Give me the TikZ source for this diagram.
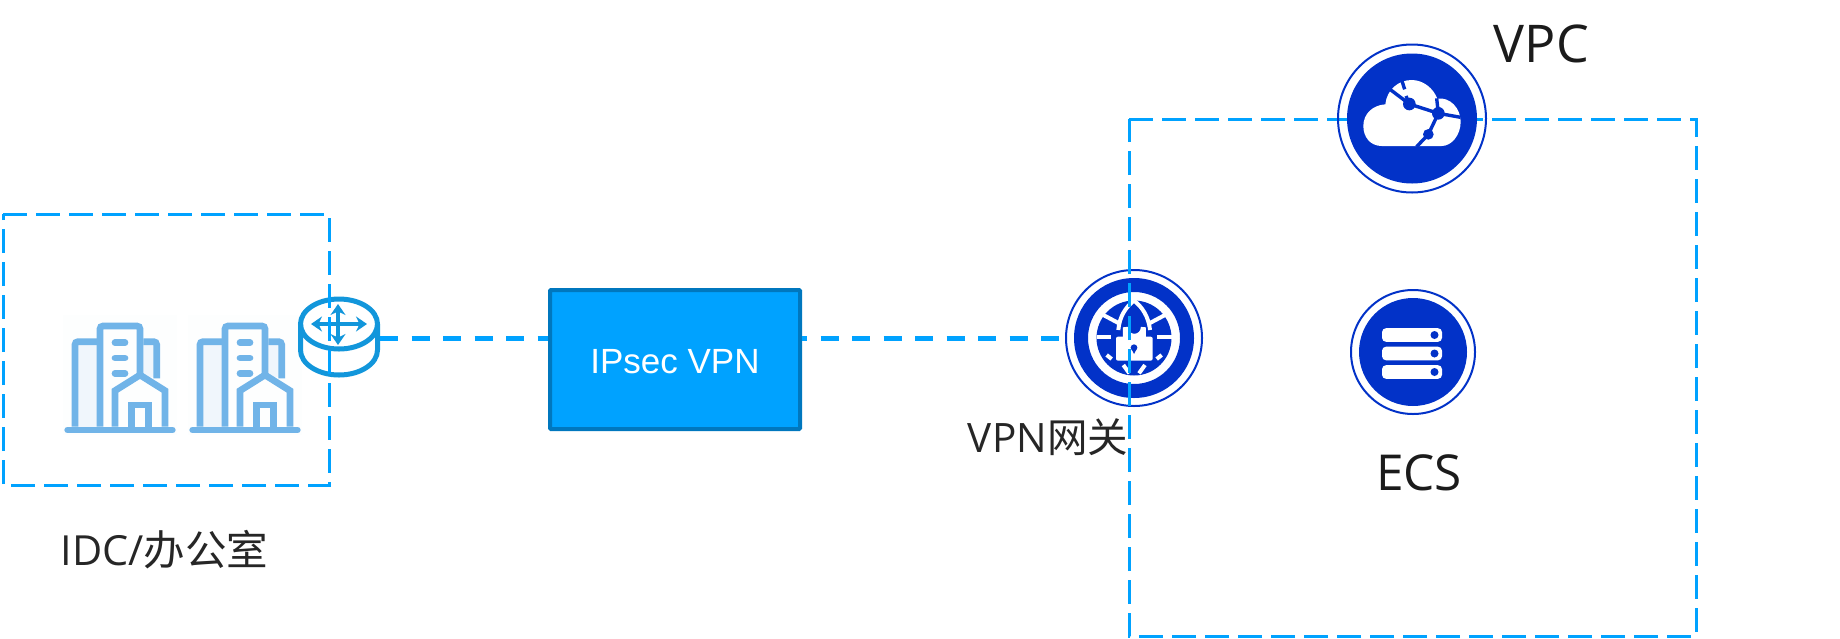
\documentclass[tikz,border=0pt]{standalone}
\usepackage{fontspec}
\setmainfont{Open Sans}
\newfontfamily\cjk{Noto Sans CJK SC}
\newfontfamily\helv{Liberation Sans}
\usetikzlibrary{arrows.meta}
\definecolor{linkblue}{HTML}{00A2FF}
\definecolor{boxedge}{HTML}{0077BE}
\definecolor{iconblue}{HTML}{0232C8}
\definecolor{routerblue}{HTML}{1296DB}
\definecolor{bldgblue}{HTML}{71B4E8}
\definecolor{bldglight}{HTML}{F0F6FC}
\definecolor{textdark}{HTML}{262626}

\tikzset{
    buildingicon/.pic={
        \fill[bldglight!15] (188,345) rectangle (532,705);
        \fill[bldglight] (225,425) rectangle (300,680);
        \fill[bldglight] (430,425) rectangle (470,530);
        \draw[bldgline, rounded corners=3pt] (225,680) -- (225,425) -- (300,425);
        \draw[bldgline, rounded corners=3pt] (300,680) -- (300,378) -- (420,378) -- (420,525);
        \draw[bldgline, rounded corners=3pt] (430,425) -- (470,425) -- (470,535);
        \foreach \wy in {428,474,520} {
            \draw[bldgline, line cap=round] (345,\wy) -- (375,\wy);
        }
        \draw[bldgline] (345,680) -- (345,572) -- (420,525) -- (495,572) -- (495,680);
        \draw[bldgline] (395,680) -- (395,615) -- (445,615) -- (445,680);
        \draw[bldgline, line cap=round] (203,690) -- (517,690);
    }
}

\begin{document}
\begin{tikzpicture}[
        x=1pt, y=-1pt,
        zonebox/.style={
            draw=linkblue,
            line width=3pt,
            dash pattern=on 24pt off 9pt
        },
        vpnbox/.style={
            rectangle,
            draw=boxedge,
            fill=linkblue,
            line width=4pt,
            rounded corners=1pt,
            text=white,
            font=\helv\fontsize{35}{42}\selectfont,
            text height=34pt,
            text depth=6pt,
            minimum width=250pt,
            minimum height=139pt
        },
        link/.style={
            draw=linkblue,
            line width=5pt,
            dash pattern=on 18pt off 13.5pt
        },
        label/.style={
            text=textdark,
            inner sep=0pt,
            font=\fontsize{40.5}{48}\selectfont
        },
        biglabel/.style={
            text=textdark!70!black,
            inner sep=0pt,
            font=\fontsize{49.5}{58}\selectfont
        },
        anchorbox/.style={
            inner sep=0pt,
            minimum width=82pt,
            minimum height=80pt
        },
        anchorcircle/.style={
            circle,
            inner sep=0pt,
            minimum size=136pt,
            outer sep=7pt
        },
        iconring/.style={
            draw=iconblue,
            line width=2pt
        },
        iconline/.style={
            draw=white,
            line width=4pt
        },
        cutline/.style={
            draw=iconblue,
            line width=3.4pt
        },
        bldgline/.style={
            draw=bldgblue,
            line width=6.7pt
        },
        routerline/.style={
            draw=routerblue,
            line width=5pt
        },
        routerarrow/.style={
            draw=routerblue,
            line width=4pt,
            {Stealth[length=11pt,width=15pt]}-{Stealth[length=11pt,width=15pt]}
        }
    ]
        \useasboundingbox (0,0) rectangle (1840,638);

        % Office side
        \pic[scale=1/3] at (0,200) {buildingicon};
        \pic[scale=1/3] at (125,200) {buildingicon};

        \node[anchorbox] (router) at (339,338) {};
        \draw[routerline] (339,324) ellipse [x radius=38.5, y radius=25];
        \draw[routerline] (300.5,324) -- (300.5,350) arc [start angle=180, end angle=0, x radius=38.5, y radius=25] -- (377.5,324);
        \draw[routerarrow] (311,324) -- (367,324);
        \draw[routerarrow] (338,304) -- (338,345);

        \draw[zonebox] (3,214) -- (329,214) -- (329,485) -- (3,485) -- cycle;
        \node[label, font=\fontsize{41.5}{50}\selectfont] (idclabel) at (164.5,550) {IDC/{\cjk 办公室}};

        % Tunnel
        \node[vpnbox] (ipsec) at (675,359.5) {IPsec VPN};
        \node[anchorcircle] (gateway) at (1134,338) {};

        \draw[link] (router.east) -- (router.east -| ipsec.west);
        \draw[link, dash phase=13pt] (router.east -| ipsec.east) -- (gateway.west);

        % Gateway icon
        \draw[iconring] (gateway.center) circle [radius=68];
        \fill[iconblue, even odd rule] (gateway.center) circle [radius=60] circle [radius=46];
        \fill[iconblue] (gateway.center) circle [radius=37.5];
        \begin{scope}[shift={(1040,240)}, scale=1/3]
            \draw[iconline] (170,292) -- (213,292);
            \draw[iconline] (352,292) -- (395,292);
            \draw[iconline] (190,225) -- (237,250);
            \draw[iconline] (375,225) -- (328,250);
            \draw[iconline] (235,270) .. controls (238,230) and (258,200) .. (282,182);
            \draw[iconline] (330,270) .. controls (326,230) and (306,200) .. (282,182);
            \draw[iconline] (200,345) -- (215,357);
            \draw[iconline] (365,345) -- (350,357);
            \draw[iconline] (250,375) -- (268,400);
            \draw[iconline] (315,375) -- (297,400);
            \draw[draw=iconblue, line width=8pt] (256,295) -- (256,262) arc [start angle=180, end angle=0, radius=27] -- (310,295);
            \draw[draw=white, line width=5pt] (256,295) -- (256,262) arc [start angle=180, end angle=0, radius=27] -- (310,295);
            \fill[white, rounded corners=2pt] (228,290) rectangle (338,362);
            \fill[iconblue] (282,323) circle [radius=10];
            \fill[iconblue] (275,328) -- (289,328) -- (282,342) -- cycle;
        \end{scope}

        % VPC zone
        \draw[zonebox] (1129,119) -- (1696,119) -- (1696,636) -- (1129,636) -- cycle;

        % VPC icon
        \draw[iconring] (1412,118.5) circle [radius=74];
        \fill[iconblue] (1412,118.5) circle [radius=65];
        \begin{scope}[shift={(1310,0)}, scale=1/3]
            \fill[white] (215,438) .. controls (180,438) and (160,410) .. (160,378)
                .. controls (160,340) and (190,315) .. (226,313)
                .. controls (230,270) and (265,240) .. (305,240)
                .. controls (340,240) and (370,265) .. (382,296)
                .. controls (420,290) and (452,325) .. (452,365)
                .. controls (452,405) and (425,438) .. (395,438) -- cycle;
            \draw[cutline] (240,268) -- (298,312) -- (385,340) -- (355,403) -- (320,440);
            \draw[cutline] (385,340) -- (452,352);
            \draw[cutline] (385,340) -- (380,295);
            \draw[cutline] (275,240) -- (284,268);
            \draw[cutline] (298,312) -- (288,288);
            \fill[iconblue] (298,312) circle [radius=19];
            \fill[iconblue] (385,340) circle [radius=19];
            \fill[iconblue] (355,403) circle [radius=16];
        \end{scope}
        \node[biglabel, font=\fontsize{52}{60}\selectfont] (vpclabel) at (1541.5,44) {VPC};

        % ECS icon
        \draw[iconring] (1413,352) circle [radius=62];
        \fill[iconblue] (1413,352) circle [radius=54];
        \foreach \barY in {335,353.5,372} {
            \fill[white, rounded corners=4pt] (1382,\barY-6.8) rectangle (1442,\barY+6.8);
            \fill[iconblue] (1434.5,\barY) circle [radius=4];
        }
        \node[biglabel] (ecslabel) at (1419,473) {ECS};

        \node[label] (gatewaylabel) at (1048,437) {VPN{\cjk 网关}};
    \end{tikzpicture}
\end{document}
